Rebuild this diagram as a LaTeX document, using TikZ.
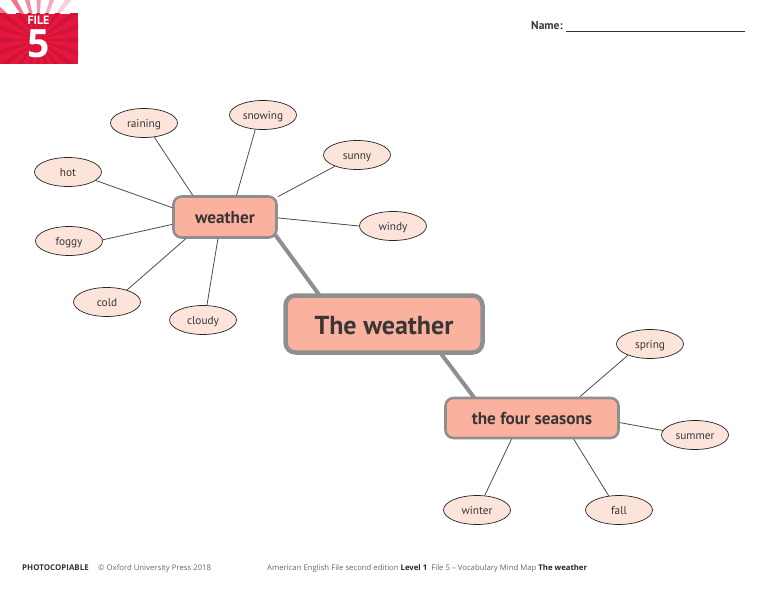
\documentclass[tikz,border=0pt]{standalone}
\usepackage{fontspec}
\setmainfont{PT Sans}
\newfontfamily\footfont{Open Sans}
\usetikzlibrary{shapes.geometric,backgrounds}
\definecolor{bubblefill}{HTML}{FDE4DB}
\definecolor{boxfill}{HTML}{FAB29E}
\definecolor{boxline}{HTML}{8F8F8F}
\definecolor{filered}{HTML}{E5173F}
\definecolor{filedark}{HTML}{CF1537}
\definecolor{textdark}{HTML}{3A3536}
\tikzset{
  bubble/.style={draw=black!85,line width=0.7pt,fill=bubblefill,ellipse,inner sep=0pt,
    minimum width=67pt,minimum height=29pt,text=textdark,text height=9pt,text depth=0pt,
    font=\fontsize{11.3}{13}\selectfont},
  topicbox/.style={draw=boxline,line width=2.6pt,fill=boxfill,rounded corners=8pt,inner sep=0pt,
    text=textdark,text height=12pt,text depth=0pt,font=\fontsize{17.2}{20}\selectfont\bfseries},
  mainbox/.style={topicbox,line width=4.5pt,rounded corners=10pt,text height=20pt,
    font=\fontsize{26}{30}\selectfont\bfseries},
  twig/.style={draw=black!70,line width=0.8pt},
  branch/.style={draw=boxline,line width=4pt,shorten <=-4pt,shorten >=-4pt},
  footnote/.style={anchor=base west,inner sep=0pt,font=\footfont\fontsize{7.75}{9}\selectfont}
}
\begin{document}
\begin{tikzpicture}[x=1pt,y=-1pt]
    \useasboundingbox (0,0) rectangle (768,594);

    % the red corner badge
    \begin{scope}
      \clip (0,0) rectangle (78,14);
      \foreach \a/\p in {218/60,239/60,255/50,271/45,289/35,307/20}{%
        \fill[filered!\p] (38,40) -- +(\a-3:90) -- +(\a+3:90) -- cycle;
      }
    \end{scope}
    \fill[filered] (0,14) rectangle (78,64);
    \begin{scope}
      \clip (0,14) rectangle (78,64);
      \foreach \a in {0,18,...,342}{%
        \fill[filedark] (38,40) -- +(\a-3.5:90) -- +(\a+3.5:90) -- cycle;
      }
    \end{scope}
    \node[text=white,inner sep=0pt,font=\fontsize{12}{12}\selectfont\bfseries] (filelabel) at (38.5,20.5) {FILE};
    \node[text=white,inner sep=0pt,font=\footfont\fontsize{39}{40}\selectfont\bfseries] (filenumber) at (38.5,43.5) {5};

    % name line
    \node[anchor=base west,inner sep=0pt,text=textdark,font=\fontsize{11.5}{13}\selectfont\bfseries] (namelabel) at (531,30) {Name:};
    \coordinate (nameline) at (745,31);
    \draw[black!80,line width=0.8pt] (566,31) -- (nameline);

    % boxes
    \node[mainbox,minimum width=197pt,minimum height=57pt] (main) at (384,324) {The weather};
    \node[topicbox,minimum width=103pt,minimum height=41pt] (weather) at (225,217) {weather};
    \node[topicbox,minimum width=173pt,minimum height=40pt] (seasons) at (532,418) {the four seasons};

    % bubbles
    \foreach \name/\x/\y in {raining/144/123,snowing/263/115,sunny/357/155,hot/68/172,
        foggy/69/241,cold/107/302,cloudy/203/320,windy/393/226,
        spring/650/344,summer/695/435,winter/477/510,fall/619/510}{%
      \node[bubble] (\name) at (\x,\y) {\name};
    }

    % twigs
    \foreach \name/\a/\b in {raining/-54/146,snowing/-118/62,sunny/207/21,hot/-17/170,
        foggy/2/188,cold/31/209,cloudy/75/252,windy/180/359}{%
      \draw[twig] (\name.\a) -- (weather.\b);
    }
    \foreach \name/\a/\b in {spring/207/24,summer/172/357,winter/62/226,fall/126/333}{%
      \draw[twig] (\name.\a) -- (seasons.\b);
    }
    \begin{scope}[on background layer]
      \draw[branch] (weather.338) -- (main.155);
      \draw[branch] (main.332) -- (seasons.160);
    \end{scope}

    % footer
    \node[footnote,text=black!80,font=\footfont\fontsize{7.95}{9}\selectfont\bfseries] (copyflag) at (22,570) {PHOTOCOPIABLE};
    \node[footnote,text=black!60] (copyright) at (98,570) {© Oxford University Press 2018};
    \node[footnote,text=black!60] (bookline) at (267,570) {American English File second edition {\color{black!85}\bfseries Level 1}\ \ File 5 – Vocabulary Mind Map {\color{black!85}\bfseries The weather}};
\end{tikzpicture}
\end{document}
